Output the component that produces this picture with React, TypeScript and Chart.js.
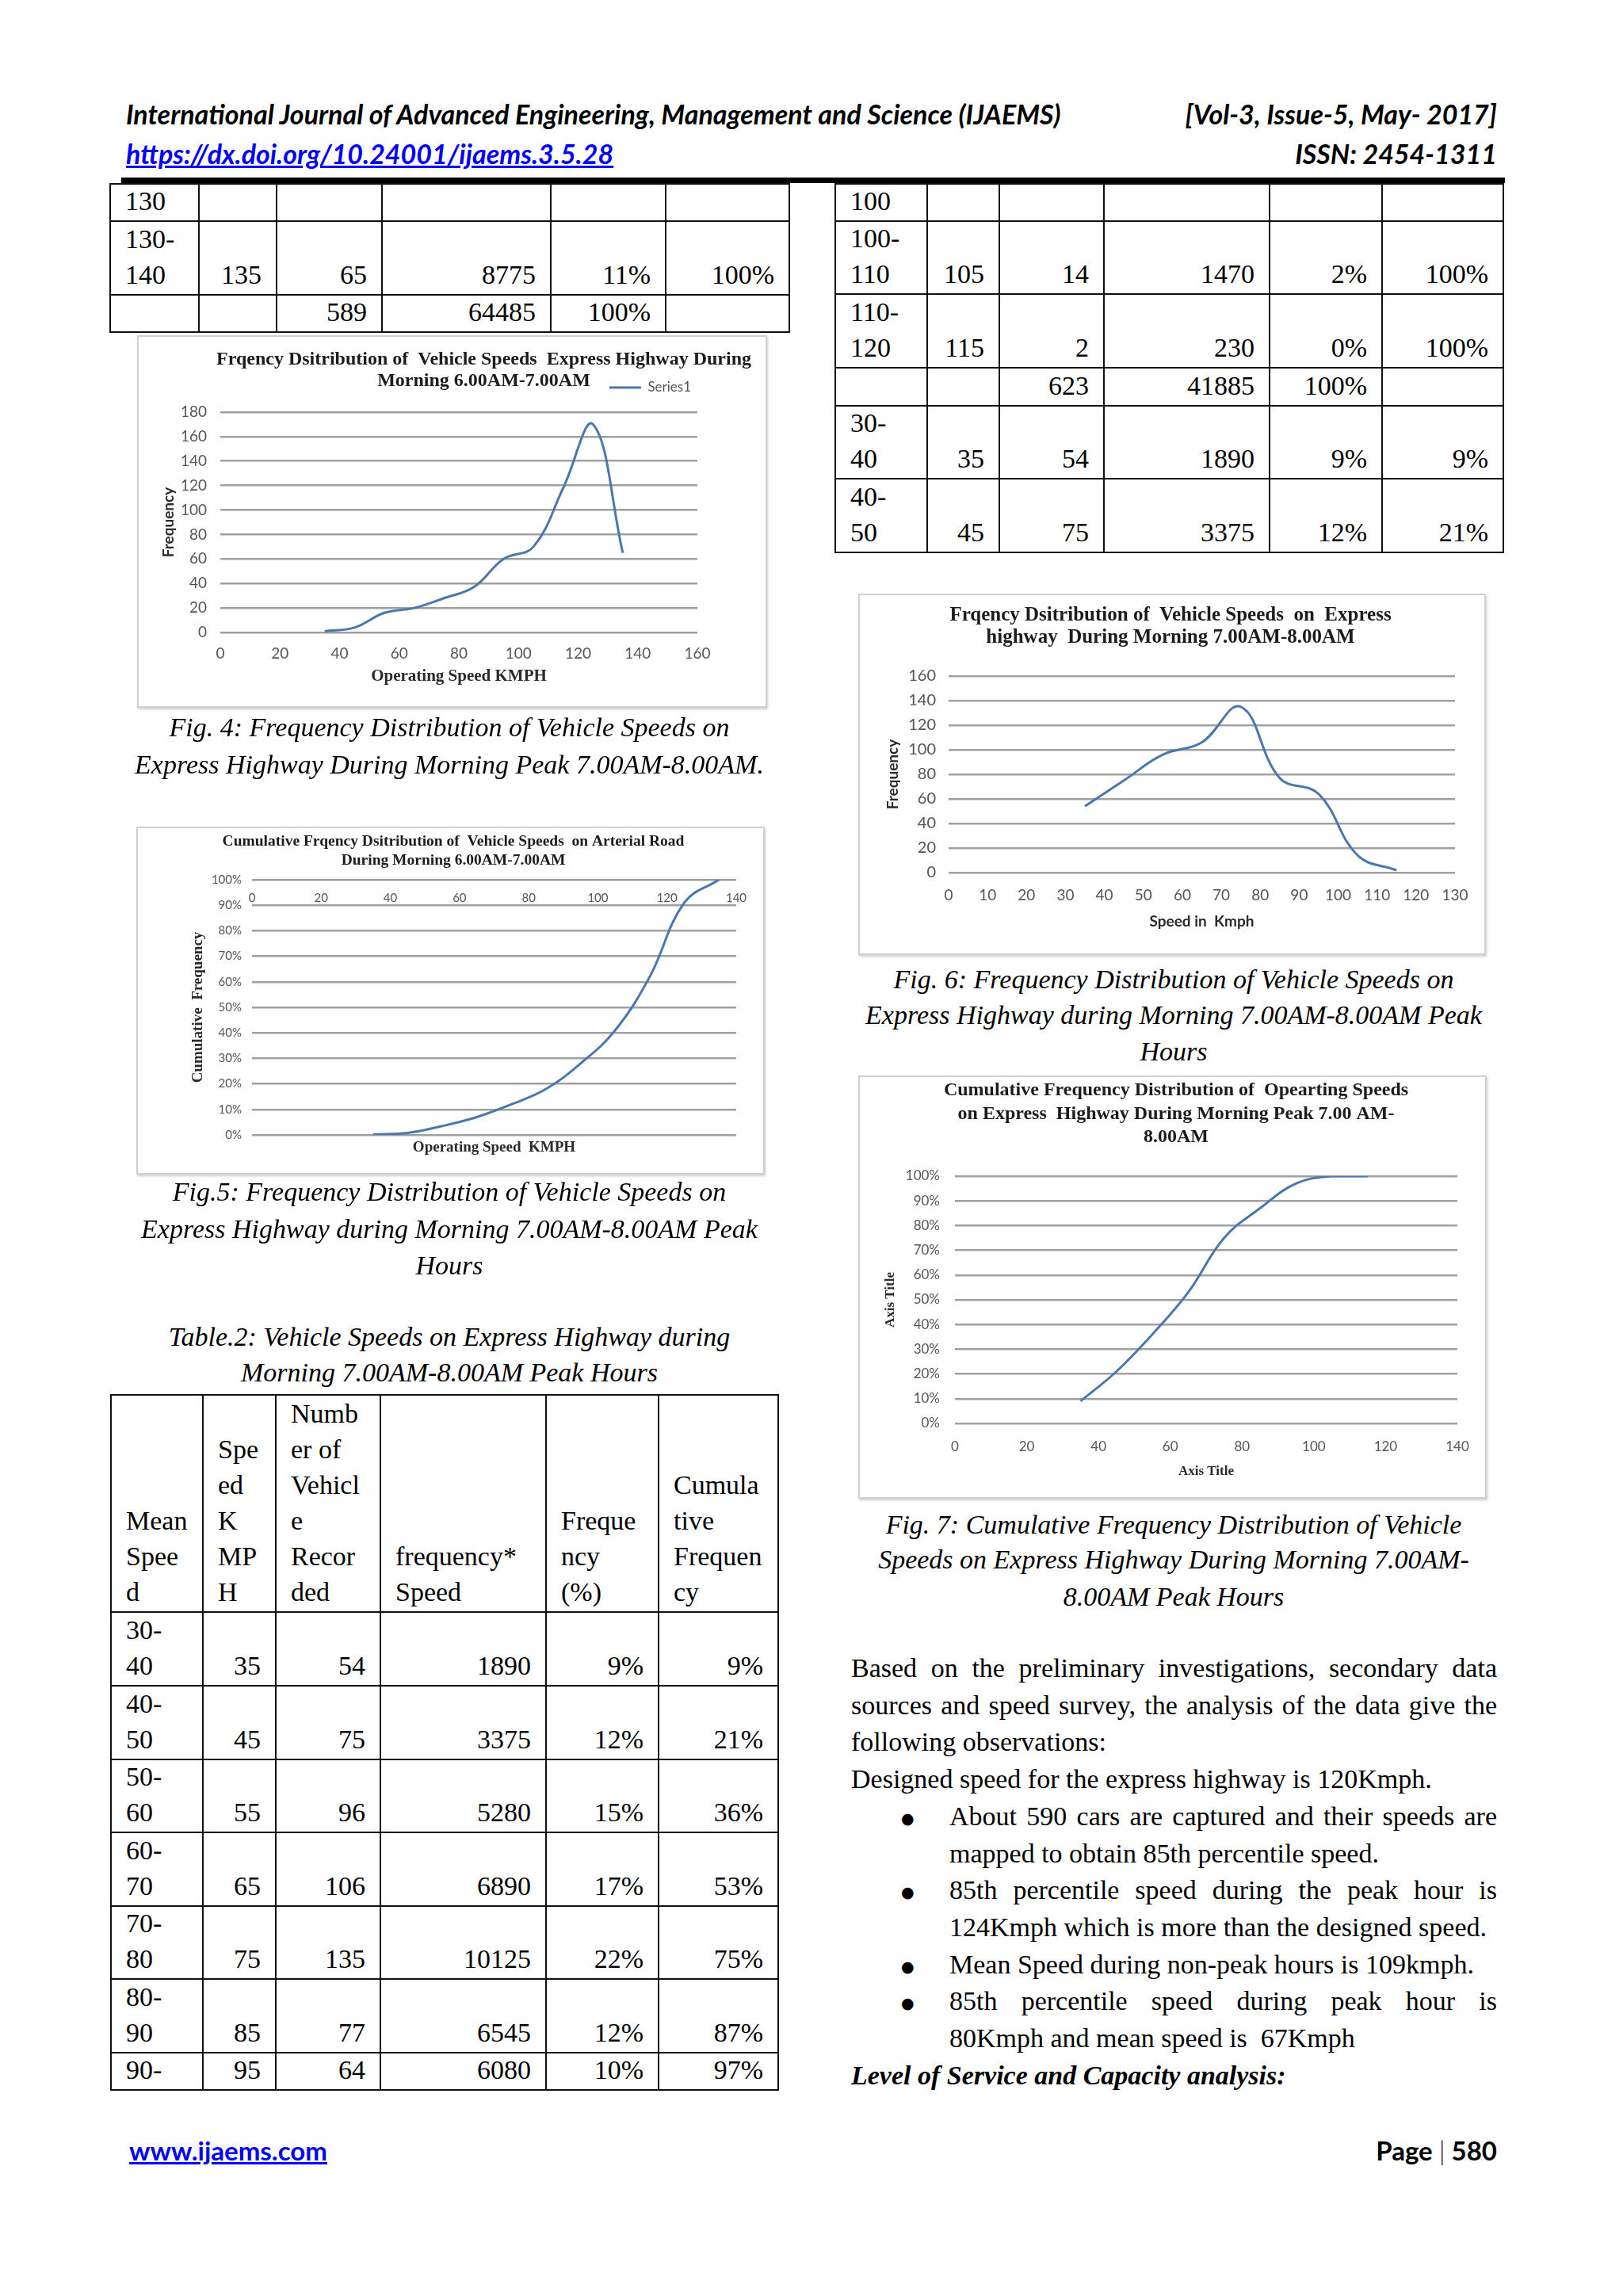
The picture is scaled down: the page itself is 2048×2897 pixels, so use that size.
import React, { useEffect, useRef } from 'react';
import { Chart, registerables } from 'chart.js';

Chart.register(...registerables);

const SERIF = '"Liberation Serif", "Times New Roman", serif';
const SANS = 'Lato, "Liberation Sans", sans-serif';
const HEAD = 'Lato, "Open Sans", sans-serif';
const LINE = '#4a77ae';
const GRID = '#a0a0a0';
const TICK = '#555555';
const AXT = '#2a2a2a';

// ---------- chart data ----------
// Fig. 4 / Fig. 5 : 6.00AM-7.00AM (Table 1)
const speedsMorning6 = [35, 45, 55, 65, 75, 85, 95, 105, 115, 125, 135];
const freqMorning6 = [1, 4, 16, 20, 28, 37, 60, 70, 118, 170, 65];
const cumMorning6 = [0.2, 0.8, 3.5, 7, 12, 18, 28, 41, 62, 91, 100];
// Fig. 6 / Fig. 7 : 7.00AM-8.00AM (Table 2)
const speedsPeak7 = [35, 45, 55, 65, 75, 85, 95, 105, 115];
const freqPeak7 = [54, 75, 96, 106, 135, 77, 64, 14, 2];
const cumPeak7 = [9, 21, 36, 53, 75, 87, 97, 100, 100];

const fig4Title = ['Frqency Dsitribution of  Vehicle Speeds  Express Highway During', 'Morning 6.00AM-7.00AM'];
const fig5Title = ['Cumulative Frqency Dsitribution of  Vehicle Speeds  on Arterial Road', 'During Morning 6.00AM-7.00AM'];
const fig6Title = ['Frqency Dsitribution of  Vehicle Speeds  on  Express', 'highway  During Morning 7.00AM-8.00AM'];
const fig7Title = ['Cumulative Frequency Distribution of  Opearting Speeds', 'on Express  Highway During Morning Peak 7.00 AM-', '8.00AM'];

// ---------- table data ----------
const tableTopLeft = [
  ['130', '', '', '', '', ''],
  ['130-\n140', '135', '65', '8775', '11%', '100%'],
  ['', '', '589', '64485', '100%', ''],
];
const tableTopRight = [
  ['100', '', '', '', '', ''],
  ['100-\n110', '105', '14', '1470', '2%', '100%'],
  ['110-\n120', '115', '2', '230', '0%', '100%'],
  ['', '', '623', '41885', '100%', ''],
  ['30-\n40', '35', '54', '1890', '9%', '9%'],
  ['40-\n50', '45', '75', '3375', '12%', '21%'],
];
const table2Header = ['Mean\nSpee\nd', 'Spe\ned\nK\nMP\nH', 'Numb\ner of\nVehicl\ne\nRecor\nded', 'frequency*\nSpeed', 'Freque\nncy\n(%)', 'Cumula\ntive\nFrequen\ncy'];
const table2Rows = [
  ['30-\n40', '35', '54', '1890', '9%', '9%'],
  ['40-\n50', '45', '75', '3375', '12%', '21%'],
  ['50-\n60', '55', '96', '5280', '15%', '36%'],
  ['60-\n70', '65', '106', '6890', '17%', '53%'],
  ['70-\n80', '75', '135', '10125', '22%', '75%'],
  ['80-\n90', '85', '77', '6545', '12%', '87%'],
  ['90-', '95', '64', '6080', '10%', '97%'],
];

type Spec = {
  w: number; h: number;
  xs: number[]; ys: number[];
  xMax: number; xStep: number; yMax: number; yStep: number; pct: boolean;
  title: string[]; titleSize: number; titleLH: number; titlePadTop: number; titlePadBottom: number;
  pad: { left: number; right: number; top: number; bottom: number };
  yWidth: number; yTickPad: number; yTickSize: number;
  yTitle: string; yTitleFont: any; yTitlePad: number;
  xHeight: number; xTickPad: number; xTickSize: number;
  xTitle: string; xTitleFont: any; xTitlePad: number;
  legend?: boolean; spacer?: number; rightWidth?: number; xTop?: boolean; x2TickPad?: number;
};

function buildConfig(s: Spec): any {
  const tickFont = (size: number) => ({ family: SANS, size, lineHeight: 1.2 });
  const yTicks: any = { stepSize: s.yStep, padding: s.yTickPad, color: TICK, font: tickFont(s.yTickSize), maxTicksLimit: 40 };
  if (s.pct) yTicks.callback = (v: any) => v + '%';
  const scales: any = {
    x: {
      type: 'linear', position: 'bottom', min: 0, max: s.xMax,
      afterFit: (sc: any) => { sc.height = s.xHeight; },
      grid: { display: false, drawTicks: false },
      border: { display: false },
      ticks: { display: !s.xTop, stepSize: s.xStep, padding: s.xTickPad, color: TICK, font: tickFont(s.xTickSize), maxRotation: 0, autoSkip: false, maxTicksLimit: 40 },
      title: { display: true, text: s.xTitle, font: s.xTitleFont, color: AXT, padding: { top: 0, bottom: s.xTitlePad } },
    },
    y: {
      type: 'linear', position: 'left', min: 0, max: s.yMax,
      afterFit: (sc: any) => { sc.width = s.yWidth; },
      grid: { color: GRID, lineWidth: 2.6, drawTicks: false },
      border: { display: false },
      ticks: yTicks,
      title: { display: true, text: s.yTitle, font: s.yTitleFont, color: AXT, padding: { top: s.yTitlePad, bottom: 0 } },
    },
  };
  if (s.xTop) {
    scales.x2 = {
      type: 'linear', position: 'top', min: 0, max: s.xMax,
      afterFit: (sc: any) => { sc.height = 0; },
      grid: { display: false, drawTicks: false },
      border: { display: false },
      ticks: { mirror: true, stepSize: s.xStep, padding: s.x2TickPad, color: TICK, font: tickFont(s.xTickSize), maxRotation: 0, autoSkip: false, maxTicksLimit: 40 },
    };
  }
  if (s.rightWidth) {
    scales.y2 = {
      type: 'linear', position: 'right', min: 0, max: s.yMax,
      afterFit: (sc: any) => { sc.width = s.rightWidth; },
      grid: { display: false, drawTicks: false },
      border: { display: false },
      ticks: { display: false },
    };
  }
  return {
    type: 'line',
    data: {
      datasets: [{
        label: 'Series1',
        data: s.xs.map((x, i) => ({ x, y: s.ys[i] })),
        borderColor: LINE, backgroundColor: LINE, borderWidth: 3,
        tension: 0.4, pointRadius: 0, fill: false, xAxisID: 'x', yAxisID: 'y',
      }],
    },
    options: {
      responsive: false, maintainAspectRatio: false, animation: false,
      layout: { padding: s.pad },
      scales,
      plugins: {
        legend: s.legend ? {
          display: true, position: 'top', align: 'end', fullSize: false, weight: 1800,
          labels: { usePointStyle: true, pointStyle: 'line', pointStyleWidth: 40, boxWidth: 40, padding: 8, color: TICK, font: { family: SANS, size: 17 } },
        } : { display: false },
        title: {
          display: true, text: s.title, color: '#1c1c1c',
          font: { family: SERIF, size: s.titleSize, weight: 'bold', lineHeight: s.titleLH + 'px' },
          padding: { top: s.titlePadTop, bottom: s.titlePadBottom },
        },
        subtitle: s.spacer ? { display: true, text: '', font: { size: 1, lineHeight: '1px' }, padding: { top: 0, bottom: s.spacer - 1 } } : { display: false },
        tooltip: { enabled: false },
      },
    },
  };
}

function ChartBox({ spec, left, top }: { spec: Spec; left: number; top: number }) {
  const ref = useRef<HTMLCanvasElement>(null);
  useEffect(() => {
    const chart = new Chart(ref.current as HTMLCanvasElement, buildConfig(spec));
    return () => chart.destroy();
  }, []);
  return (
    <>
      <canvas ref={ref} width={spec.w} height={spec.h} style={{ position: 'absolute', left, top, width: spec.w, height: spec.h, background: '#fff' }} />
      <div style={{ position: 'absolute', left, top, width: spec.w, height: spec.h, border: '2px solid #d0d0d0', boxSizing: 'border-box', boxShadow: '1px 2px 3px rgba(0,0,0,0.2)', pointerEvents: 'none' }} />
    </>
  );
}

const fig4: Spec = {
  w: 795, h: 470, xs: speedsMorning6, ys: freqMorning6, xMax: 160, xStep: 20, yMax: 180, yStep: 20, pct: false,
  title: fig4Title, titleSize: 24, titleLH: 27, titlePadTop: 17.5, titlePadBottom: -22,
  pad: { left: 40, right: -40, top: 0, bottom: 25 },
  yWidth: 65, yTickPad: 17, yTickSize: 19,
  yTitle: 'Frequency', yTitleFont: { family: SANS, size: 19, weight: 'bold' }, yTitlePad: -11.4,
  xHeight: 70, xTickPad: 15.6, xTickSize: 19,
  xTitle: 'Operating Speed KMPH', xTitleFont: { family: SERIF, size: 21, weight: 'bold' }, xTitlePad: 1.4,
  legend: true, spacer: 12.5, rightWidth: 128,
};
const fig5: Spec = {
  w: 793, h: 439, xs: speedsMorning6, ys: cumMorning6, xMax: 140, xStep: 20, yMax: 100, yStep: 10, pct: true,
  title: fig5Title, titleSize: 19.5, titleLH: 24, titlePadTop: 7, titlePadBottom: 12,
  pad: { left: 43, right: 36, top: 0, bottom: 10 },
  yWidth: 103, yTickPad: 13, yTickSize: 15,
  yTitle: 'Cumulative  Frequency', yTitleFont: { family: SERIF, size: 19, weight: 'bold' }, yTitlePad: 23.6,
  xHeight: 40, xTickPad: 0, xTickSize: 15,
  xTitle: 'Operating Speed  KMPH', xTitleFont: { family: SERIF, size: 19, weight: 'bold' }, xTitlePad: 12.6,
  xTop: true, x2TickPad: 14,
};
const fig6: Spec = {
  w: 792, h: 456, xs: speedsPeak7, ys: freqPeak7, xMax: 130, xStep: 10, yMax: 160, yStep: 20, pct: false,
  title: fig6Title, titleSize: 25, titleLH: 28, titlePadTop: 14, titlePadBottom: 34,
  pad: { left: 35, right: 39, top: 0, bottom: 14 },
  yWidth: 79, yTickPad: 16, yTickSize: 20,
  yTitle: 'Frequency', yTitleFont: { family: SANS, size: 19, weight: 'bold' }, yTitlePad: -2.4,
  xHeight: 90, xTickPad: 17.6, xTickSize: 19,
  xTitle: 'Speed in  Kmph', xTitleFont: { family: SANS, size: 19, weight: 'bold' }, xTitlePad: 16.6,
};
const fig7: Spec = {
  w: 793, h: 534, xs: speedsPeak7, ys: cumPeak7, xMax: 140, xStep: 20, yMax: 100, yStep: 10, pct: true,
  title: fig7Title, titleSize: 24, titleLH: 29.5, titlePadTop: 4.25, titlePadBottom: 34.25,
  pad: { left: 46, right: 37, top: 0, bottom: 10 },
  yWidth: 76, yTickPad: 19, yTickSize: 17,
  yTitle: 'Axis Title', yTitleFont: { family: SERIF, size: 17, weight: 'bold' }, yTitlePad: -15.2,
  xHeight: 85, xTickPad: 19.8, xTickSize: 17,
  xTitle: 'Axis Title', xTitleFont: { family: SERIF, size: 17, weight: 'bold' }, xTitlePad: 13.8,
};

function GridTable({ cols, rows, cells, headerLeft }: { cols: number[]; rows: number[]; cells: string[][]; headerLeft?: boolean }) {
  const els: any[] = [];
  const x0 = cols[0], x1 = cols[cols.length - 1], y0 = rows[0], y1 = rows[rows.length - 1];
  cols.forEach((x, i) => els.push(<div key={'v' + i} style={{ position: 'absolute', left: x - 1, top: y0 - 1, width: 2, height: y1 - y0 + 2, background: '#111' }} />));
  rows.forEach((y, i) => els.push(<div key={'h' + i} style={{ position: 'absolute', left: x0 - 1, top: y - 1, width: x1 - x0 + 2, height: 2, background: '#111' }} />));
  cells.forEach((row, r) => row.forEach((txt, c) => {
    if (!txt) return;
    const leftAlign = c === 0 || (headerLeft && r === 0);
    els.push(
      <div key={'c' + r + '_' + c} style={{
        position: 'absolute', left: cols[c], top: rows[r], width: cols[c + 1] - cols[c], height: rows[r + 1] - rows[r],
        display: 'flex', flexDirection: 'column', justifyContent: 'flex-end', alignItems: leftAlign ? 'flex-start' : 'flex-end',
        padding: '0 19px 3px 19px', boxSizing: 'border-box', whiteSpace: 'pre', lineHeight: '45px', fontSize: 34, fontFamily: SERIF, color: '#000',
      }}>{txt}</div>
    );
  }));
  return <>{els}</>;
}

function Line({ top, left, width, text, justify, style }: { top: number; left: number; width: number; text: any; justify?: boolean; style?: any }) {
  return (
    <div style={{
      position: 'absolute', left, top: top - 25, width, height: 46, lineHeight: '46px', fontSize: 34, fontFamily: SERIF, whiteSpace: justify ? 'normal' : 'nowrap',
      textAlign: justify ? 'justify' : 'left', textAlignLast: justify ? 'justify' : 'auto', color: '#000', ...style,
    } as any}>{text}</div>
  );
}

function Caption({ cx, ys, lines }: { cx: number; ys: number[]; lines: string[] }) {
  return (
    <>
      {lines.map((l, i) => (
        <div key={i} style={{ position: 'absolute', left: cx - 500, width: 1000, top: ys[i] - 25, height: 46, lineHeight: '46px', textAlign: 'center', fontSize: 34, fontStyle: 'italic', fontFamily: SERIF, whiteSpace: 'nowrap', color: '#000' }}>{l}</div>
      ))}
    </>
  );
}

const headStyle: any = { position: 'absolute', lineHeight: '40px', fontSize: 34, fontFamily: HEAD, fontWeight: 700, fontStyle: 'italic', whiteSpace: 'nowrap', color: '#000' };

export default function App() {
  const bodyTop = 2107, step = 46.7;
  const by = (i: number) => bodyTop + i * step;
  const bullet = (i: number) => (
    <div style={{ position: 'absolute', left: 1137, top: by(i) - 23, lineHeight: '46px', fontSize: 19, fontFamily: '"DejaVu Sans", sans-serif', color: '#000' }}>●</div>
  );
  return (
    <div style={{ position: 'absolute', left: 0, top: 0, width: 2048, height: 2897, background: '#fff', overflow: 'hidden' }}>
      {/* header */}
      <div style={{ ...headStyle, left: 159, top: 144 - 20 }}>
        International Journal of Advanced Engineering, Management and Science (IJAEMS)
      </div>
      <div style={{ ...headStyle, right: 2048 - 1889, top: 144 - 20 }}>
        [Vol-3, Issue-5, May- 2017]
      </div>
      <div style={{ ...headStyle, left: 159, top: 194 - 20, color: '#0000ff', textDecoration: 'underline' }}>
        https://dx.doi.org/10.24001/ijaems.3.5.28
      </div>
      <div style={{ ...headStyle, right: 2048 - 1889, top: 194 - 20 }}>
        ISSN: 2454-1311
      </div>
      <div style={{ position: 'absolute', left: 153, top: 224, width: 1746, height: 7, background: '#000' }} />

      {/* tables at top */}
      <GridTable cols={[139, 251, 349, 482, 695, 840, 996]} rows={[232, 279, 372, 419]} cells={tableTopLeft} />
      <GridTable cols={[1054, 1170, 1261, 1393, 1602, 1744, 1897]} rows={[232, 279, 371, 464, 512, 604, 697]} cells={tableTopRight} />

      {/* charts */}
      <ChartBox spec={fig4} left={173} top={423} />
      <Caption cx={567} ys={[920, 967]} lines={['Fig. 4: Frequency Distribution of Vehicle Speeds on', 'Express Highway During Morning Peak 7.00AM-8.00AM.']} />
      <ChartBox spec={fig5} left={172} top={1043} />
      <Caption cx={567} ys={[1506, 1553, 1599]} lines={['Fig.5: Frequency Distribution of Vehicle Speeds on', 'Express Highway during Morning 7.00AM-8.00AM Peak', 'Hours']} />
      <Caption cx={567} ys={[1689, 1734]} lines={['Table.2: Vehicle Speeds on Express Highway during', 'Morning 7.00AM-8.00AM Peak Hours']} />
      <ChartBox spec={fig6} left={1083} top={749} />
      <Caption cx={1481} ys={[1238, 1283, 1329]} lines={['Fig. 6: Frequency Distribution of Vehicle Speeds on', 'Express Highway during Morning 7.00AM-8.00AM Peak', 'Hours']} />
      <ChartBox spec={fig7} left={1083} top={1357} />
      <Caption cx={1481} ys={[1926, 1970, 2017]} lines={['Fig. 7: Cumulative Frequency Distribution of Vehicle', 'Speeds on Express Highway During Morning 7.00AM-', '8.00AM Peak Hours']} />

      {/* table 2 */}
      <GridTable cols={[140, 256, 348, 480, 689, 831, 982]} rows={[1760, 2034, 2127, 2220, 2312, 2405, 2497, 2590, 2637]} cells={[table2Header, ...table2Rows]} headerLeft />

      {/* body text */}
      <Line top={by(0)} left={1074} width={815} justify text="Based on the preliminary investigations, secondary data" />
      <Line top={by(1)} left={1074} width={815} justify text="sources and speed survey, the analysis of the data give the" />
      <Line top={by(2)} left={1074} width={815} text="following observations:" />
      <Line top={by(3)} left={1074} width={815} text="Designed speed for the express highway is 120Kmph." />
      {bullet(4)}
      <Line top={by(4)} left={1198} width={691} justify text="About 590 cars are captured and their speeds are" />
      <Line top={by(5)} left={1198} width={691} text="mapped to obtain 85th percentile speed." />
      {bullet(6)}
      <Line top={by(6)} left={1198} width={691} justify text="85th percentile speed during the peak hour is" />
      <Line top={by(7)} left={1198} width={691} text="124Kmph which is more than the designed speed." />
      {bullet(8)}
      <Line top={by(8)} left={1198} width={691} text="Mean Speed during non-peak hours is 109kmph." />
      {bullet(9)}
      <Line top={by(9)} left={1198} width={691} justify text="85th percentile speed during peak hour is" />
      <Line top={by(10)} left={1198} width={691} text={'80Kmph and mean speed is\u00a0 67Kmph'} />
      <Line top={by(11)} left={1074} width={815} text="Level of Service and Capacity analysis:" style={{ fontWeight: 700, fontStyle: 'italic' }} />

      {/* footer */}
      <div style={{ position: 'absolute', left: 163, top: 2713 - 20, lineHeight: '40px', fontSize: 33, fontFamily: HEAD, fontWeight: 700, whiteSpace: 'nowrap', color: '#0000ff', textDecoration: 'underline' }}>
        www.ijaems.com
      </div>
      <div style={{ position: 'absolute', right: 2048 - 1889, top: 2713 - 20, lineHeight: '40px', fontSize: 33, fontFamily: HEAD, fontWeight: 700, whiteSpace: 'nowrap' }}>
        Page <span style={{ fontWeight: 300 }}>|</span> 580
      </div>
    </div>
  );
}
